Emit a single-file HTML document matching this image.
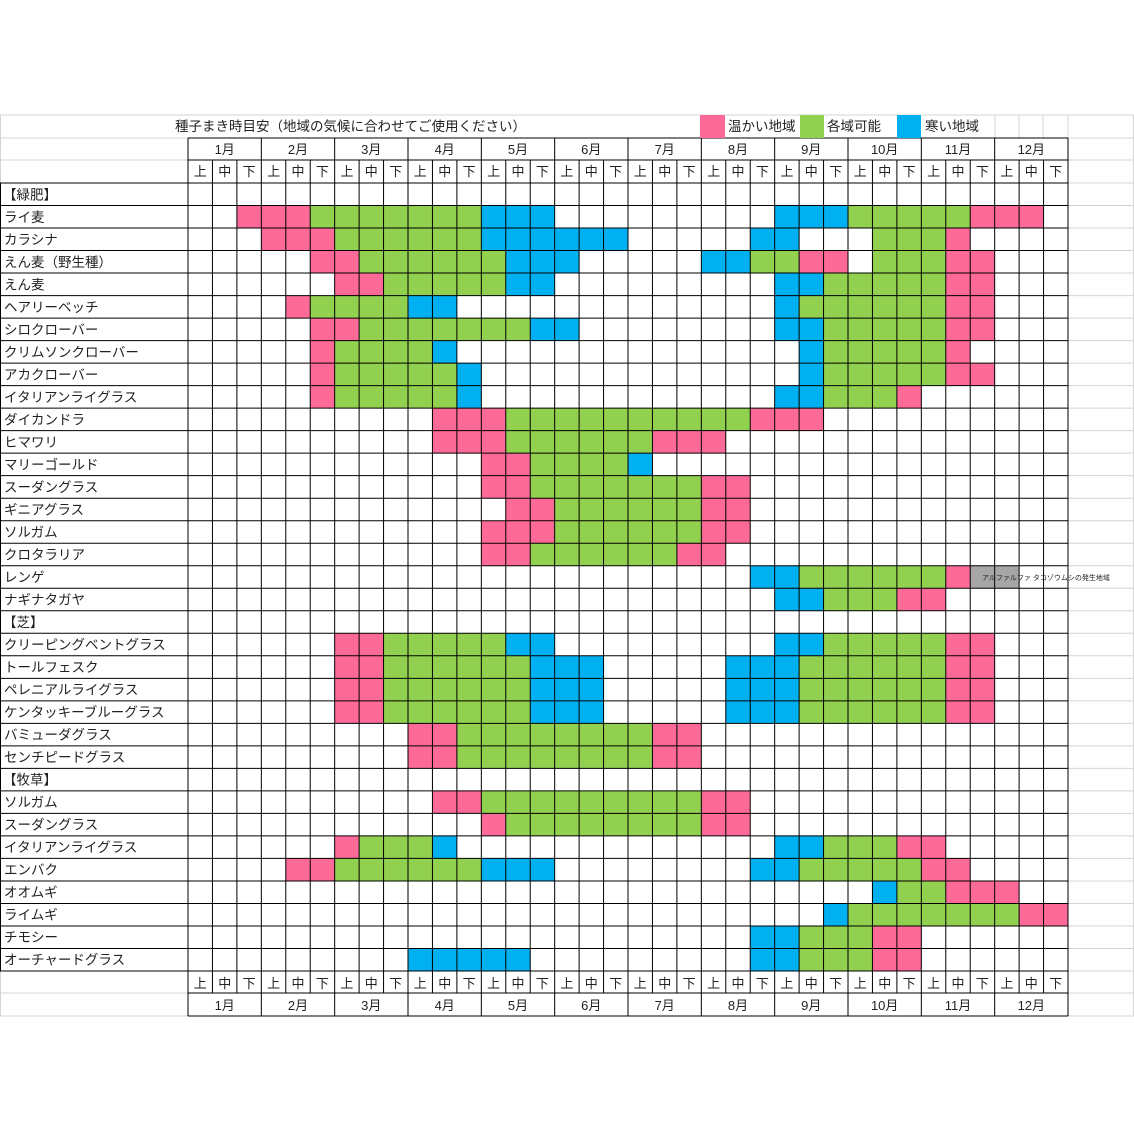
<!DOCTYPE html>
<html><head><meta charset="utf-8"><style>
html,body{margin:0;padding:0;background:#fff;}
svg{display:block;font-family:"Liberation Sans","Noto Sans CJK JP",sans-serif;}
</style></head><body>
<svg id="s" width="1134" height="1134" viewBox="0 0 1134 1134" xmlns="http://www.w3.org/2000/svg">
<rect width="1134" height="1134" fill="#fff"/>
<g id="cells"></g>
<g id="lines"></g>
<rect x="700" y="115" width="25" height="23" fill="#fd6a98"/>
<rect x="800" y="115" width="24" height="23" fill="#92d050"/>
<rect x="897" y="115" width="24" height="23" fill="#00b0f0"/>
<g font-size="13.5" fill="#222">
<text x="175" y="131">種子まき時目安（地域の気候に合わせてご使用ください）</text>
<text x="728" y="131">温かい地域</text>
<text x="827" y="131">各域可能</text>
<text x="925" y="131">寒い地域</text>
</g>
<g font-size="13" fill="#222" text-anchor="middle">
<text x="224.7" y="154">1月</text><text x="298" y="154">2月</text><text x="371.3" y="154">3月</text><text x="444.7" y="154">4月</text><text x="518" y="154">5月</text><text x="591.3" y="154">6月</text><text x="664.7" y="154">7月</text><text x="738" y="154">8月</text><text x="811.3" y="154">9月</text><text x="884.7" y="154">10月</text><text x="958" y="154">11月</text><text x="1031.3" y="154">12月</text>
<text x="224.7" y="1010">1月</text><text x="298" y="1010">2月</text><text x="371.3" y="1010">3月</text><text x="444.7" y="1010">4月</text><text x="518" y="1010">5月</text><text x="591.3" y="1010">6月</text><text x="664.7" y="1010">7月</text><text x="738" y="1010">8月</text><text x="811.3" y="1010">9月</text><text x="884.7" y="1010">10月</text><text x="958" y="1010">11月</text><text x="1031.3" y="1010">12月</text>
</g>
<g font-size="13" fill="#222" text-anchor="middle" id="kan">
<text x="200.2" y="176">上</text><text x="224.7" y="176">中</text><text x="249.1" y="176">下</text><text x="273.6" y="176">上</text><text x="298" y="176">中</text><text x="322.4" y="176">下</text><text x="346.9" y="176">上</text><text x="371.3" y="176">中</text><text x="395.8" y="176">下</text><text x="420.2" y="176">上</text><text x="444.7" y="176">中</text><text x="469.1" y="176">下</text><text x="493.6" y="176">上</text><text x="518" y="176">中</text><text x="542.4" y="176">下</text><text x="566.9" y="176">上</text><text x="591.3" y="176">中</text><text x="615.8" y="176">下</text><text x="640.2" y="176">上</text><text x="664.7" y="176">中</text><text x="689.1" y="176">下</text><text x="713.6" y="176">上</text><text x="738" y="176">中</text><text x="762.4" y="176">下</text><text x="786.9" y="176">上</text><text x="811.3" y="176">中</text><text x="835.8" y="176">下</text><text x="860.2" y="176">上</text><text x="884.7" y="176">中</text><text x="909.1" y="176">下</text><text x="933.6" y="176">上</text><text x="958" y="176">中</text><text x="982.4" y="176">下</text><text x="1006.9" y="176">上</text><text x="1031.3" y="176">中</text><text x="1055.8" y="176">下</text>
<text x="200.2" y="988">上</text><text x="224.7" y="988">中</text><text x="249.1" y="988">下</text><text x="273.6" y="988">上</text><text x="298" y="988">中</text><text x="322.4" y="988">下</text><text x="346.9" y="988">上</text><text x="371.3" y="988">中</text><text x="395.8" y="988">下</text><text x="420.2" y="988">上</text><text x="444.7" y="988">中</text><text x="469.1" y="988">下</text><text x="493.6" y="988">上</text><text x="518" y="988">中</text><text x="542.4" y="988">下</text><text x="566.9" y="988">上</text><text x="591.3" y="988">中</text><text x="615.8" y="988">下</text><text x="640.2" y="988">上</text><text x="664.7" y="988">中</text><text x="689.1" y="988">下</text><text x="713.6" y="988">上</text><text x="738" y="988">中</text><text x="762.4" y="988">下</text><text x="786.9" y="988">上</text><text x="811.3" y="988">中</text><text x="835.8" y="988">下</text><text x="860.2" y="988">上</text><text x="884.7" y="988">中</text><text x="909.1" y="988">下</text><text x="933.6" y="988">上</text><text x="958" y="988">中</text><text x="982.4" y="988">下</text><text x="1006.9" y="988">上</text><text x="1031.3" y="988">中</text><text x="1055.8" y="988">下</text>
</g>
<g font-size="13.5" fill="#222">
<text x="3" y="199.5">【緑肥】</text>
<text x="4" y="222">ライ麦</text>
<text x="4" y="244.5">カラシナ</text>
<text x="4" y="267">えん麦（野生種）</text>
<text x="4" y="289.5">えん麦</text>
<text x="4" y="312">ヘアリーベッチ</text>
<text x="4" y="334.5">シロクローバー</text>
<text x="4" y="357">クリムソンクローバー</text>
<text x="4" y="379.5">アカクローバー</text>
<text x="4" y="402">イタリアンライグラス</text>
<text x="4" y="424.5">ダイカンドラ</text>
<text x="4" y="447">ヒマワリ</text>
<text x="4" y="469.5">マリーゴールド</text>
<text x="4" y="492">スーダングラス</text>
<text x="4" y="514.5">ギニアグラス</text>
<text x="4" y="537">ソルガム</text>
<text x="4" y="559.5">クロタラリア</text>
<text x="4" y="582">レンゲ</text>
<text x="4" y="604.5">ナギナタガヤ</text>
<text x="3" y="627">【芝】</text>
<text x="4" y="649.5">クリーピングベントグラス</text>
<text x="4" y="672">トールフェスク</text>
<text x="4" y="694.5">ペレニアルライグラス</text>
<text x="4" y="717">ケンタッキーブルーグラス</text>
<text x="4" y="739.5">バミューダグラス</text>
<text x="4" y="762">センチピードグラス</text>
<text x="3" y="784.5">【牧草】</text>
<text x="4" y="807">ソルガム</text>
<text x="4" y="829.5">スーダングラス</text>
<text x="4" y="852">イタリアンライグラス</text>
<text x="4" y="874.5">エンバク</text>
<text x="4" y="897">オオムギ</text>
<text x="4" y="919.5">ライムギ</text>
<text x="4" y="942">チモシー</text>
<text x="4" y="964.5">オーチャードグラス</text>
</g>
<text x="982" y="580" font-size="7" fill="#222">アルファルファ タコゾウムシの発生地域</text>
</svg>
<script>
(function(){
var NS="http://www.w3.org/2000/svg";
var X0=188,X1=1068,CW=(X1-X0)/36,Y0=183,RH=(971-183)/35;
var rows=[
"36.",
"2.3p7g3b9.3b5g3p1.",
"3.3p6g6b5.2b3.3g1p4.",
"5.2p6g3b5.2b2g2p1.3g2p3.",
"6.2p5g2b9.2b5g2p3.",
"4.1p4g2b13.1b6g2p3.",
"5.2p7g2b8.2b5g2p3.",
"5.1p4g1b14.1b5g1p4.",
"5.1p5g1b13.1b5g2p3.",
"5.1p5g1b12.2b3g1p6.",
"10.3p10g3p10.",
"10.3p6g3p14.",
"12.2p4g1b17.",
"12.2p7g2p13.",
"13.2p6g2p13.",
"12.3p6g2p13.",
"12.2p6g2p14.",
"23.2b6g1p2x2.",
"24.2b3g2p5.",
"36.",
"6.2p5g2b9.2b5g2p3.",
"6.2p6g3b5.3b6g2p3.",
"6.2p6g3b5.3b6g2p3.",
"6.2p6g3b5.3b6g2p3.",
"9.2p8g2p15.",
"9.2p8g2p15.",
"36.",
"10.2p9g2p13.",
"12.1p8g2p13.",
"6.1p3g1b13.2b3g2p5.",
"4.2p6g3b8.2b5g2p4.",
"28.1b2g3p2.",
"26.1b7g2p",
"23.2b3g2p6.",
"9.5b9.2b3g2p6."
];
var col={p:"#fd6a98",g:"#92d050",b:"#00b0f0",x:"#a6a6a6"};
var cg=document.getElementById("cells"),lg=document.getElementById("lines");
function R(x,y,w,h,f,p){var r=document.createElementNS(NS,"rect");r.setAttribute("x",x);r.setAttribute("y",y);r.setAttribute("width",w);r.setAttribute("height",h);r.setAttribute("fill",f);p.appendChild(r);}
function L(x1,y1,x2,y2,c,w){var l=document.createElementNS(NS,"line");l.setAttribute("x1",x1);l.setAttribute("y1",y1);l.setAttribute("x2",x2);l.setAttribute("y2",y2);l.setAttribute("stroke",c);l.setAttribute("stroke-width",w||1);lg.appendChild(l);}
rows.forEach(function(s,ri){
 var re=/(\d+)([.pgbx])/g,m,c=0;
 while((m=re.exec(s))){var n=+m[1],k=m[2];
  if(k!=="."){R(X0+c*CW,Y0+ri*RH,n*CW,RH,col[k],cg);}
  c+=n;}
});
var G="#d4d4d4",B="#000";
[115,138,160,183].forEach(function(y){L(0,y,1134,y,G);});
for(var i=0;i<=35;i++){L(1068,Y0+i*RH,1134,Y0+i*RH,G);}
[993,1016].forEach(function(y){L(0,y,1134,y,G);});
L(0.5,115,0.5,1016,G);
[995,1019,1043,1068,1134].forEach(function(x){L(x,115,x,138,G);});
L(1133.5,115,1133.5,1016,G);
[138,160].forEach(function(y){L(X0,y,X1,y,B);});
for(var i=0;i<=35;i++){L(0,Y0+i*RH,X1,Y0+i*RH,B);}
[993,1016].forEach(function(y){L(X0,y,X1,y,B);});
for(var j=0;j<=36;j++){var x=X0+j*CW;
 if(j%3===0){L(x,138,x,1016,B);} else {L(x,160,x,993,B);}}
L(0.5,183,0.5,971,B);
})();
</script>
</body></html>
